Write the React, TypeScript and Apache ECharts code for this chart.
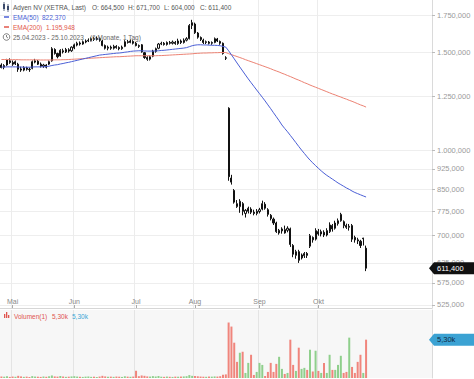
import React, { useEffect, useRef } from "react";
import * as echarts from "echarts";

// ---------- data ----------
const tradingDays: [string, number[]][] = [
  ["2023-04", [25, 26, 27, 28]],
  ["2023-05", [2, 3, 4, 5, 8, 9, 10, 11, 12, 15, 16, 17, 18, 19, 22, 23, 24, 25, 26, 29, 30, 31]],
  ["2023-06", [1, 2, 5, 6, 7, 8, 9, 12, 13, 14, 15, 16, 19, 20, 21, 22, 23, 26, 27, 28, 29, 30]],
  ["2023-07", [3, 4, 5, 6, 7, 10, 11, 12, 13, 14, 17, 18, 19, 20, 21, 24, 25, 26, 27, 28, 31]],
  ["2023-08", [1, 2, 3, 4, 7, 8, 9, 10, 11, 14, 15, 16, 17, 18, 21, 22, 23, 24, 25, 28, 29, 30, 31]],
  ["2023-09", [1, 4, 5, 6, 7, 8, 11, 12, 13, 14, 15, 18, 19, 20, 21, 22, 25, 26, 27, 28, 29]],
  ["2023-10", [2, 3, 4, 5, 6, 9, 10, 11, 12, 13, 16, 17, 18, 19, 20, 23, 24, 25]],
];
const emptySlots = 23;
const monthNames: Record<string, string> = { "05": "Mai", "06": "Jun", "07": "Jul", "08": "Aug", "09": "Sep", "10": "Okt" };

// [open, high, low, close]
const ohlc: [number, number, number, number][] = [
  [1425, 1435, 1405, 1410], [1412, 1430, 1400, 1422], [1425, 1462, 1420, 1455], [1450, 1465, 1432, 1440], [1440, 1452, 1420, 1430],
  [1432, 1452, 1425, 1445], [1430, 1438, 1385, 1400], [1402, 1415, 1385, 1395], [1395, 1418, 1388, 1410], [1408, 1415, 1392, 1400],
  [1400, 1410, 1385, 1398], [1405, 1452, 1400, 1445], [1442, 1462, 1435, 1450], [1448, 1455, 1425, 1430], [1430, 1440, 1410, 1418],
  [1418, 1432, 1408, 1425], [1425, 1430, 1405, 1412], [1430, 1452, 1425, 1445], [1450, 1535, 1445, 1525], [1520, 1528, 1488, 1495],
  [1495, 1500, 1465, 1475], [1480, 1522, 1475, 1515], [1512, 1525, 1495, 1505], [1505, 1530, 1498, 1520], [1518, 1528, 1500, 1510],
  [1512, 1540, 1505, 1535], [1530, 1558, 1522, 1550], [1548, 1570, 1540, 1560], [1562, 1572, 1545, 1555], [1555, 1578, 1550, 1570],
  [1568, 1585, 1560, 1575], [1575, 1592, 1568, 1580], [1578, 1598, 1572, 1590], [1590, 1600, 1575, 1585], [1585, 1605, 1578, 1592],
  [1590, 1598, 1570, 1580], [1575, 1582, 1540, 1545], [1545, 1552, 1520, 1528], [1528, 1545, 1515, 1535], [1535, 1545, 1518, 1528],
  [1528, 1550, 1520, 1540], [1540, 1548, 1525, 1532], [1532, 1540, 1515, 1525], [1525, 1545, 1518, 1535], [1540, 1580, 1535, 1570],
  [1570, 1582, 1558, 1565], [1565, 1585, 1560, 1575], [1572, 1580, 1552, 1560], [1560, 1568, 1540, 1545], [1545, 1552, 1530, 1540],
  [1550, 1555, 1500, 1505], [1500, 1505, 1462, 1470], [1470, 1478, 1450, 1460], [1460, 1482, 1452, 1475], [1478, 1518, 1472, 1510],
  [1508, 1532, 1500, 1525], [1528, 1562, 1522, 1555], [1555, 1570, 1548, 1560], [1560, 1568, 1545, 1552], [1552, 1572, 1545, 1565],
  [1565, 1575, 1552, 1560], [1560, 1578, 1552, 1568], [1566, 1575, 1550, 1558], [1558, 1590, 1550, 1575], [1575, 1585, 1555, 1565],
  [1565, 1592, 1558, 1580], [1580, 1600, 1572, 1590], [1590, 1690, 1585, 1680], [1680, 1720, 1655, 1700], [1690, 1700, 1622, 1630],
  [1628, 1635, 1590, 1600], [1598, 1605, 1575, 1585], [1580, 1590, 1555, 1565], [1565, 1578, 1555, 1570], [1568, 1575, 1552, 1560],
  [1560, 1572, 1550, 1565], [1565, 1598, 1560, 1590], [1588, 1595, 1568, 1575], [1572, 1578, 1550, 1560], [1560, 1565, 1488, 1495],
  [1468, 1478, 1455, 1466], [1190, 1195, 880, 895], [875, 902, 866, 890], [845, 850, 800, 805], [790, 812, 786, 800],
  [790, 815, 770, 808], [800, 805, 762, 775], [768, 782, 755, 778], [775, 790, 768, 785], [782, 788, 766, 772],
  [772, 780, 762, 768], [768, 782, 762, 775], [774, 786, 768, 780], [782, 810, 778, 800], [798, 805, 780, 785],
  [780, 785, 758, 765], [762, 766, 746, 752], [750, 755, 732, 738], [738, 742, 708, 712], [708, 720, 703, 716],
  [714, 725, 706, 720], [708, 730, 706, 718], [716, 728, 710, 722], [720, 724, 668, 675], [672, 676, 640, 648],
  [645, 660, 636, 655], [655, 660, 625, 632], [638, 650, 634, 646], [644, 654, 638, 650], [650, 654, 638, 645],
  [670, 705, 665, 700], [695, 698, 680, 688], [690, 722, 686, 715], [712, 720, 700, 705], [705, 718, 698, 712],
  [710, 716, 696, 702], [702, 722, 698, 715], [712, 740, 708, 732], [730, 735, 712, 720], [722, 745, 718, 738],
  [736, 752, 730, 745], [745, 770, 742, 765], [742, 746, 722, 730], [730, 736, 720, 725], [725, 735, 715, 728],
  [730, 735, 682, 690], [695, 700, 680, 688], [688, 694, 676, 685], [684, 688, 665, 672], [693, 694, 672, 691],
  [664.5, 671.7, 604, 611.4],
];

// volume in thousands
const volume: number[] = [
  0.22, 0.18, 0.25, 0.15, 0.2, 0.17, 0.3, 0.22, 0.16, 0.19,
  0.14, 0.26, 0.2, 0.18, 0.15, 0.21, 0.17, 0.24, 0.35, 0.22,
  0.19, 0.28, 0.2, 0.16, 0.18, 0.22, 0.25, 0.2, 0.17, 0.15,
  0.19, 0.21, 0.16, 0.18, 0.14, 0.2, 0.3, 0.22, 0.17, 0.19,
  0.16, 0.2, 0.18, 0.15, 0.24, 0.19, 0.17, 0.2, 1.0, 0.25,
  0.35, 0.3, 0.22, 0.2, 0.26, 0.21, 0.28, 0.18, 0.16, 0.2,
  0.17, 0.15, 0.19, 0.18, 0.2, 0.22, 0.25, 0.4, 0.3, 0.28,
  0.24, 0.2, 0.18, 0.17, 0.2, 0.19, 0.22, 0.2, 0.25, 0.45,
  0.5,
  7.67, 7.11, 4.88, 2.23, 3.49, 3.63, 0.7, 2.09, 3.21, 0.42,
  0.84, 2.09, 1.81, 0.28, 0.84, 2.09, 0.84, 1.95, 2.93, 1.26,
  0.56, 0.7, 5.3, 1.81, 0.98, 4.19, 1.26, 1.4, 1.12, 3.91,
  0.9, 3.77, 0.98, 0.7, 2.09, 0.7, 3.21, 1.12, 1.12, 1.81,
  3.07, 0.7, 0.84, 5.58, 1.53, 0.7, 2.23, 3.21, 0.7, 5.3,
];

const ema50: number[] = [
  1413, 1413, 1414, 1414, 1414, 1414, 1413, 1413, 1412, 1412,
  1412, 1413, 1414, 1414, 1414, 1414, 1416, 1418, 1422, 1425,
  1427, 1431, 1434, 1438, 1441, 1445, 1449, 1453, 1457, 1461,
  1465, 1469, 1473, 1477, 1481, 1485, 1487, 1489, 1491, 1493,
  1495, 1497, 1498, 1500, 1503, 1505, 1508, 1510, 1511, 1512,
  1512, 1511, 1510, 1510, 1510, 1511, 1512, 1514, 1515, 1517,
  1519, 1521, 1523, 1525, 1527, 1529, 1532, 1538, 1544, 1548,
  1550, 1550, 1549, 1549, 1548, 1547, 1547, 1546, 1544, 1540,
  1535, 1512, 1487, 1462, 1437, 1413, 1390, 1367, 1345, 1324,
  1304, 1284, 1265, 1246, 1227, 1207, 1188, 1168, 1149, 1130,
  1110, 1094, 1079, 1063, 1047, 1031, 1015, 1000, 986, 972,
  959, 948, 937, 927, 917, 908, 900, 893, 886, 879,
  872, 866, 860, 854, 849, 843, 838, 834, 830, 826,
  822.37,
];

const ema200: number[] = [
  1458, 1458, 1458, 1457, 1457, 1457, 1457, 1456, 1456, 1456,
  1456, 1456, 1456, 1456, 1455, 1455, 1455, 1455, 1455, 1456,
  1456, 1456, 1457, 1457, 1458, 1459, 1460, 1461, 1462, 1463,
  1464, 1465, 1466, 1467, 1468, 1469, 1470, 1471, 1472, 1473,
  1474, 1475, 1475, 1476, 1477, 1478, 1479, 1480, 1481, 1481,
  1481, 1481, 1481, 1481, 1481, 1481, 1482, 1482, 1483, 1484,
  1485, 1486, 1487, 1488, 1489, 1490, 1491, 1492, 1493, 1495,
  1496, 1497, 1498, 1498, 1499, 1499, 1500, 1500, 1501, 1501,
  1501, 1494, 1488, 1482, 1476, 1470, 1464, 1457, 1451, 1445,
  1439, 1433, 1427, 1421, 1415, 1409, 1403, 1396, 1390, 1384,
  1377, 1371, 1364, 1358, 1351, 1344, 1338, 1331, 1324, 1318,
  1311, 1305, 1299, 1293, 1287, 1281, 1275, 1269, 1263, 1258,
  1252, 1247, 1241, 1236, 1230, 1225, 1219, 1213, 1207, 1202,
  1195.948,
];

const priceTicks = [525, 575, 625, 700, 775, 850, 925, 1000, 1250, 1500, 1750];
const priceRange = [518, 1868];
const volumeMax = 9.4;
const title = "Adyen NV (XETRA, Last)";
const dateRangeText = "25.04.2023 - 25.10.2023";
const durationText = "(6 Monate, 1 Tag)";

// ---------- helpers ----------
const FONT = "'Liberation Sans', Arial, sans-serif";
const LEGEND_SIZE = 6.5;
function fmtDE(v: number, d: number): string {
  const s = v.toFixed(d);
  const [i, f] = s.split(".");
  const ii = i.replace(/\B(?=(\d{3})+$)/g, ".");
  return f !== undefined ? ii + "," + f : ii;
}

export default function App() {
  const ref = useRef<HTMLDivElement>(null);
  useEffect(() => {
    if (!ref.current) return;
    const chart = echarts.init(ref.current, undefined, { renderer: "svg" });

    const dates: string[] = [];
    tradingDays.forEach(([m, days]) => days.forEach((d) => dates.push(`${m}-${String(d).padStart(2, "0")}`)));
    const cats = [...dates];
    for (let k = 0; k < emptySlots; k++) cats.push(`pad${k}`);
    const monthStart = new Set<number>();
    dates.forEach((d, i) => {
      if (i > 0 && d.slice(5, 7) !== dates[i - 1].slice(5, 7)) monthStart.add(i);
    });
    const isStart = (idx: number) => monthStart.has(idx);
    const ln = Math.log;

    const last = ohlc[ohlc.length - 1];
    const lastVol = volume[volume.length - 1];

    const volData = volume.map((v, i) => {
      const prev = i > 0 ? ohlc[i - 1][3] : ohlc[i][0];
      const up = ohlc[i][3] >= prev;
      return { value: v, itemStyle: { color: up ? "#8fcf8c" : "#f0857c" } };
    });

    const option: any = {
      animation: false,
      grid: [
        { left: 0, right: 42, top: 0, height: 308 },
        { left: 0, right: 42, top: 310, height: 68, show: true, backgroundColor: "#f7f7f7", borderWidth: 0 },
      ],
      xAxis: [
        {
          type: "category", gridIndex: 0, data: cats, boundaryGap: true,
          axisLine: { show: true, lineStyle: { color: "#d6d6d6" } },
          axisTick: { show: true, inside: true, length: 3, interval: isStart, alignWithLabel: true, lineStyle: { color: "#aaa" } },
          axisLabel: {
            show: true, inside: true, interval: isStart, margin: 3, color: "#888", fontSize: 7, fontFamily: FONT,
            formatter: (v: string) => monthNames[v.slice(5, 7)] || "",
          },
          splitLine: { show: true, interval: isStart, lineStyle: { color: "#ececec" } },
        },
        {
          type: "category", gridIndex: 1, data: cats, boundaryGap: true,
          axisLine: { show: false }, axisTick: { show: false }, axisLabel: { show: false },
          splitLine: { show: true, interval: isStart, lineStyle: { color: "#e4e4e4" } },
        },
      ],
      yAxis: [
        {
          type: "value", gridIndex: 0, position: "right", min: ln(priceRange[0]), max: ln(priceRange[1]),
          axisLine: { show: true, lineStyle: { color: "#dadada" } },
          axisTick: { show: true, length: 3, customValues: priceTicks.map(ln), lineStyle: { color: "#bbb" } },
          axisLabel: {
            show: true, customValues: priceTicks.map(ln), margin: 5, color: "#9a9a9a", fontSize: 7.5, fontFamily: FONT,
            formatter: (v: number) => fmtDE(Math.round(Math.exp(v)), 3),
          },
          splitLine: { show: true, lineStyle: { color: "#eeeeee" } },
        },
        {
          type: "value", gridIndex: 1, position: "right", min: 0, max: volumeMax,
          axisLine: { show: true, lineStyle: { color: "#dadada" } },
          axisTick: { show: false }, axisLabel: { show: false }, splitLine: { show: false },
        },
      ],
      series: [
        {
          type: "candlestick", xAxisIndex: 0, yAxisIndex: 0, barWidth: 1.6,
          data: ohlc.map(([o, h, l, c]) => [ln(o), ln(c), ln(l), ln(h)]),
          itemStyle: { color: "#ffffff", color0: "#111111", borderColor: "#111111", borderColor0: "#111111", borderWidth: 1 },
        },
        {
          type: "line", xAxisIndex: 0, yAxisIndex: 0, data: ema200.map(ln), symbol: "none", z: 3,
          lineStyle: { color: "#ec8273", width: 1 },
        },
        {
          type: "line", xAxisIndex: 0, yAxisIndex: 0, data: ema50.map(ln), symbol: "none", z: 3,
          lineStyle: { color: "#4b5fd6", width: 1 },
        },
        {
          type: "bar", xAxisIndex: 1, yAxisIndex: 1, barWidth: 2, data: volData,
        },
      ],
    };
    chart.setOption(option);

    const yPrice = chart.convertToPixel({ yAxisIndex: 0 } as any, ln(last[3])) as number;
    const yVol = chart.convertToPixel({ yAxisIndex: 1 } as any, lastVol) as number;
    const tag = (y: number, fill: string, text: string, textFill: string) => [
      {
        type: "polygon", z: 100,
        shape: { points: [[429, y], [434, y - 6], [474, y - 6], [474, y + 6], [434, y + 6]] },
        style: { fill },
      },
      {
        type: "text", z: 101, x: 437, y,
        style: { text, fill: textFill, fontSize: 7.5, fontFamily: FONT, verticalAlign: "middle" },
      },
    ];
    const txt = (x: number, y: number, text: string, fill: string) => ({
      type: "text", z: 100, x, y, style: { text, fill, fontSize: LEGEND_SIZE, fontFamily: FONT, verticalAlign: "middle" },
    });

    const graphics: any[] = [
      // header icon
      { type: "line", z: 100, shape: { x1: 4, y1: 2, x2: 4, y2: 11 }, style: { stroke: "#3c4a6b", lineWidth: 0.8 } },
      { type: "rect", z: 100, shape: { x: 3, y: 4, width: 2, height: 5 }, style: { fill: "#3c4a6b" } },
      { type: "line", z: 100, shape: { x1: 8, y1: 4, x2: 8, y2: 12 }, style: { stroke: "#3c4a6b", lineWidth: 0.8 } },
      { type: "rect", z: 100, shape: { x: 7, y: 6, width: 2, height: 4 }, style: { fill: "#3c4a6b" } },
      txt(13, 7, title, "#555"),
      txt(92, 7, `O: ${fmtDE(last[0], 3)}`, "#555"),
      txt(128, 7, `H: ${fmtDE(last[1], 3)}`, "#555"),
      txt(164, 7, `L: ${fmtDE(last[2], 3)}`, "#555"),
      txt(200, 7, `C: ${fmtDE(last[3], 3)}`, "#555"),
      { type: "line", z: 100, shape: { x1: 4, y1: 17, x2: 9, y2: 17 }, style: { stroke: "#4b5fd6", lineWidth: 1.5 } },
      txt(13, 17, "EMA(50)", "#4b5fd6"),
      txt(42, 17, fmtDE(ema50[ema50.length - 1], 3), "#4b5fd6"),
      { type: "line", z: 100, shape: { x1: 4, y1: 27, x2: 9, y2: 27 }, style: { stroke: "#e2574c", lineWidth: 1.5 } },
      txt(13, 27, "EMA(200)", "#e2574c"),
      txt(46, 27, fmtDE(ema200[ema200.length - 1], 3), "#e2574c"),
      { type: "circle", z: 100, shape: { cx: 6.5, cy: 37, r: 3.3 }, style: { fill: "none", stroke: "#666", lineWidth: 0.8 } },
      { type: "polyline", z: 100, shape: { points: [[6.5, 35], [6.5, 37], [8, 38]] }, style: { fill: "none", stroke: "#666", lineWidth: 0.8 } },
      txt(13, 37, dateRangeText, "#666"),
      txt(90, 37, durationText, "#666"),
      // volume legend
      { type: "rect", z: 100, shape: { x: 4, y: 314, width: 1.3, height: 4 }, style: { fill: "#e0544e" } },
      { type: "rect", z: 100, shape: { x: 6, y: 312, width: 1.3, height: 6 }, style: { fill: "#e0544e" } },
      { type: "rect", z: 100, shape: { x: 8, y: 315, width: 1.3, height: 3 }, style: { fill: "#e0544e" } },
      txt(14, 316, "Volumen(1)", "#e0544e"),
      txt(52, 316, fmtDE(lastVol, 2) + "k", "#e0544e"),
      txt(72, 316, fmtDE(lastVol, 2) + "k", "#3aa6d6"),
      ...tag(yPrice, "#111111", fmtDE(last[3], 3), "#ffffff"),
      ...tag(yVol, "#3ba2d3", fmtDE(lastVol, 2) + "k", "#0f2a44"),
    ];
    chart.setOption({ graphic: graphics });

    return () => chart.dispose();
  }, []);
  return (
    <div
      ref={ref}
      style={{ position: "absolute", left: 0, top: 0, width: 474, height: 379, background: "#ffffff" }}
    />
  );
}
